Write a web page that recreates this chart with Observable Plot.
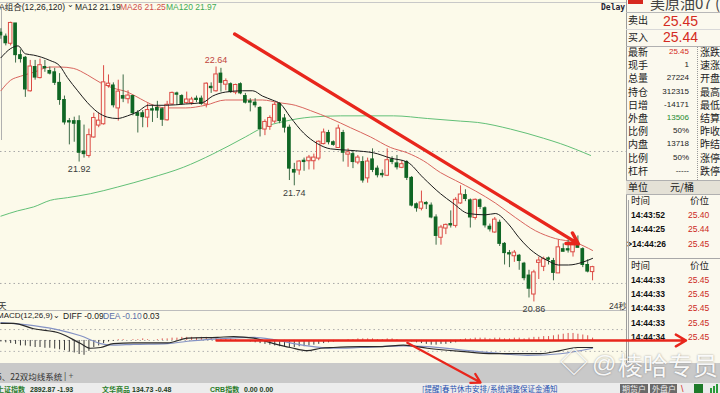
<!DOCTYPE html>
<html><head><meta charset="utf-8">
<script src="https://cdn.jsdelivr.net/npm/d3@7"></script>
<script src="https://cdn.jsdelivr.net/npm/@observablehq/plot@0.6"></script>
<style>
body{margin:0;background:#fcfaea;}
#wrap{position:relative;width:720px;height:393px;overflow:hidden;background:#fcfaea;font-family:"Liberation Sans","Noto Sans CJK SC",sans-serif;color:#222;}
.t{position:absolute;white-space:nowrap;line-height:1;}
.cjk{font-family:"Noto Sans CJK SC",sans-serif;}
.ab{position:absolute;}
</style></head>
<body><div id="wrap"></div>
<script>
// ---------- candle data (index 0..121) ----------
const opens  = [22.90,22.87,22.82,22.97,22.73,22.71,22.46,22.64,22.56,22.64,22.61,22.60,22.52,22.39,22.23,22.23,22.23,22.00,21.97,22.11,22.20,22.21,22.50,22.50,22.33,22.42,22.40,22.42,22.29,22.29,22.26,22.32,22.33,22.32,22.24,22.36,22.44,22.42,22.37,22.37,22.40,22.40,22.36,22.49,22.46,22.59,22.51,22.51,22.45,22.51,22.42,22.38,22.37,22.33,22.17,22.19,22.23,22.36,22.25,22.18,21.86,21.86,21.93,21.93,21.93,21.95,22.06,22.14,22.07,22.03,22.14,21.98,21.98,21.92,21.92,21.80,21.94,21.87,21.83,21.82,21.94,21.91,21.88,21.92,21.80,21.60,21.57,21.61,21.59,21.50,21.35,21.42,21.45,21.44,21.61,21.67,21.63,21.50,21.63,21.57,21.43,21.39,21.46,21.30,21.23,21.21,21.21,21.15,21.06,20.92,21.16,21.13,21.19,21.17,21.08,21.26,21.26,21.24,21.29,21.26,21.14,21.09];
const highs  = [22.93,22.89,22.98,22.97,22.77,22.72,22.69,22.69,22.70,22.69,22.64,22.63,22.59,22.42,22.25,22.26,22.27,22.20,22.17,22.29,22.29,22.65,22.58,22.52,22.54,22.58,22.46,22.42,22.31,22.31,22.36,22.35,22.38,22.33,22.38,22.45,22.45,22.43,22.45,22.41,22.42,22.42,22.52,22.52,22.64,22.63,22.55,22.52,22.51,22.52,22.44,22.40,22.40,22.34,22.24,22.27,22.37,22.37,22.28,22.20,21.91,21.93,21.95,21.97,21.98,22.08,22.17,22.16,22.08,22.20,22.16,22.02,22.00,21.97,21.96,21.95,22.02,21.89,21.86,22.02,21.96,21.97,21.93,21.93,21.81,21.61,21.70,21.62,21.61,21.52,21.44,21.45,21.55,21.65,21.74,21.71,21.64,21.64,21.64,21.58,21.45,21.50,21.48,21.31,21.25,21.25,21.22,21.16,21.10,21.10,21.20,21.20,21.20,21.19,21.33,21.30,21.33,21.31,21.36,21.27,21.18,21.13];
const lows   = [22.85,22.80,22.80,22.67,22.67,22.41,22.45,22.54,22.55,22.60,22.58,22.50,22.35,22.20,22.05,22.07,21.92,21.95,21.95,22.10,22.18,22.20,22.48,22.33,22.23,22.37,22.36,22.27,22.14,22.18,22.18,22.22,22.25,22.19,22.23,22.35,22.35,22.35,22.36,22.35,22.37,22.35,22.33,22.44,22.45,22.45,22.46,22.44,22.43,22.43,22.36,22.30,22.33,22.11,22.12,22.16,22.21,22.21,22.14,21.78,21.74,21.82,21.85,21.86,21.86,21.93,22.05,22.05,22.04,22.03,21.92,21.88,21.87,21.90,21.76,21.76,21.84,21.80,21.80,21.81,21.90,21.86,21.87,21.78,21.58,21.54,21.55,21.56,21.49,21.29,21.29,21.37,21.42,21.42,21.60,21.62,21.42,21.48,21.56,21.42,21.39,21.38,21.28,21.14,21.12,21.16,21.10,21.02,20.89,20.86,21.03,21.09,21.14,21.02,21.08,21.24,21.23,21.20,21.27,21.12,21.08,21.02];
const closes = [22.88,22.82,22.97,22.73,22.70,22.47,22.64,22.56,22.65,22.63,22.59,22.52,22.39,22.22,22.22,22.21,21.99,21.98,22.12,22.25,22.23,22.52,22.51,22.35,22.45,22.40,22.42,22.29,22.27,22.26,22.31,22.31,22.31,22.24,22.35,22.44,22.43,22.36,22.39,22.39,22.39,22.36,22.51,22.48,22.58,22.52,22.53,22.45,22.50,22.44,22.37,22.37,22.35,22.17,22.22,22.25,22.35,22.23,22.18,21.87,21.84,21.92,21.92,21.95,21.95,22.07,22.14,22.07,22.05,22.17,21.99,21.99,21.92,21.95,21.78,21.92,21.86,21.82,21.82,21.93,21.92,21.88,21.90,21.80,21.59,21.57,21.61,21.60,21.50,21.36,21.42,21.44,21.44,21.63,21.67,21.64,21.50,21.63,21.58,21.44,21.41,21.48,21.30,21.23,21.22,21.23,21.17,21.04,20.96,21.08,21.17,21.18,21.18,21.08,21.27,21.24,21.25,21.29,21.27,21.14,21.09,21.12];

// moving averages: [index, value]
const ma12  = [[0,22.71],[2,22.78],[3.5,22.80],[5,22.74],[6.7,22.73],[10,22.69],[12,22.65],[13.6,22.56],[15.7,22.46],[17.7,22.37],[19.7,22.30],[21.8,22.26],[23.8,22.25],[25.9,22.27],[27.9,22.30],[30.2,22.35],[33.7,22.35],[37.8,22.36],[41.2,22.37],[43.3,22.42],[45.9,22.45],[49.4,22.46],[51.5,22.46],[53.5,22.42],[55.5,22.39],[57.2,22.36],[59.2,22.26],[61.9,22.14],[64.7,22.06],[67.4,22.02],[70.9,22.01],[74.2,22.00],[76.2,21.99],[79.7,21.95],[83.1,21.92],[86.4,21.80],[89.9,21.68],[92.4,21.61],[95.6,21.53],[99.1,21.52],[101.1,21.53],[103.8,21.45],[105.9,21.35],[107.9,21.27],[110,21.21],[112,21.17],[114,21.14],[116.1,21.14],[118.9,21.16],[121,21.19]];
const ma26  = [[0,22.46],[2,22.54],[4,22.57],[6.7,22.60],[10.1,22.64],[12.2,22.64],[14.8,22.63],[17.7,22.58],[20.4,22.52],[23,22.48],[25.9,22.45],[28.5,22.40],[30.6,22.36],[33.7,22.33],[37.8,22.33],[41.8,22.35],[45.9,22.39],[50,22.39],[53.5,22.39],[56.8,22.37],[60.2,22.35],[63.3,22.31],[67.4,22.25],[71.5,22.18],[75.6,22.11],[79.7,22.03],[83.1,21.99],[86.4,21.93],[89.9,21.84],[93,21.78],[97.1,21.70],[101.1,21.61],[105.2,21.50],[109.3,21.40],[113.4,21.34],[117.5,21.31],[121,21.25]];
const ma120 = [[0,21.51],[3.4,21.55],[6.7,21.58],[10.1,21.63],[13.6,21.65],[18.3,21.68],[23.8,21.73],[30.6,21.80],[37.3,21.88],[43.3,21.98],[50,22.11],[53.5,22.18],[58.2,22.23],[63.3,22.26],[69.5,22.27],[80.3,22.27],[87.2,22.25],[94,22.23],[97.5,22.22],[104.2,22.17],[111,22.10],[114.4,22.06],[120.6,21.97]];

// labelled extremes
const markIdx = [44, 16, 60, 109];
const markVal = [22.64, 21.92, 21.74, 20.86];

// MACD
const diff = [[0,0.22],[2.6,0.22],[6.7,0.15],[12.2,0.09],[16.3,-0.04],[18.3,-0.10],[20.4,-0.09],[23,-0.04],[27.1,-0.03],[34.1,-0.03],[38.2,0.03],[44.3,0.04],[47.6,0.05],[51.7,0.03],[55.8,-0.04],[59.2,-0.09],[62.7,-0.13],[65.4,-0.10],[68,-0.09],[73.5,-0.08],[77.6,-0.08],[82.3,-0.06],[87.2,-0.10],[94,-0.14],[100.7,-0.17],[107.7,-0.17],[110.3,-0.17],[114.4,-0.13],[117.9,-0.09],[121,-0.09]];
const dea  = [[0,0.23],[6.7,0.19],[12.2,0.13],[16.3,0.06],[20.4,-0.04],[23,-0.06],[27.1,-0.05],[34.1,-0.04],[38.2,-0.01],[44.3,0.02],[51.7,0.04],[55.8,0.01],[59.2,-0.03],[62.7,-0.07],[68,-0.10],[73.5,-0.09],[82.3,-0.07],[87.2,-0.08],[94,-0.12],[100.7,-0.16],[107.7,-0.19],[114.4,-0.17],[121,-0.10]];
const macdHist = [-0.02,-0.03,-0.04,-0.05,-0.07,-0.07,-0.08,-0.09,-0.09,-0.10,-0.10,-0.11,-0.12,-0.13,-0.15,-0.16,-0.18,-0.19,-0.14,-0.09,-0.07,-0.04,-0.02,-0.01,0.01,0.01,0.00,0.01,0.01,0.02,0.01,0.00,0.01,0.02,0.02,0.03,0.03,0.04,0.04,0.04,0.03,0.04,0.04,0.03,0.03,0.02,0.02,0.02,0.01,0.00,-0.01,-0.02,-0.03,-0.04,-0.05,-0.06,-0.07,-0.08,-0.08,-0.09,-0.09,-0.08,-0.08,-0.07,-0.06,-0.05,-0.04,-0.03,-0.02,-0.01,0.00,0.01,0.01,0.02,0.02,0.02,0.02,0.01,0.01,0.02,0.02,0.01,0.00,-0.01,-0.02,-0.03,-0.04,-0.05,-0.06,-0.06,-0.05,-0.05,-0.04,-0.03,0.01,0.02,0.02,0.03,0.03,0.03,0.02,0.03,0.03,0.02,0.02,0.03,0.03,0.02,0.03,0.04,0.04,0.05,0.05,0.06,0.07,0.08,0.09,0.09,0.08,0.07,0.06,0.03];

// annotation arrows (index, value)
const trendArrow = [{i1:47.8, v1:22.89, i2:118.1, v2:21.30}];
const flatArrow  = [{i1:44.1, v1:0.0, i2:140.1, v2:0.0}];
const downArrow  = [{i1:83.1, v1:-0.03, i2:98.1, v2:-0.54}];

// texts
const legendItems = [["MA12 21.19","#222"],["MA26 21.25","#d0504a"],["MA120 21.97","#3faa55"]];
const legendX = [75, 120, 166];
const macdItems = [["DIFF -0.09","#222"],["DEA -0.10","#5b6fa8"],["0.03","#222"]];
const macdX = [63, 103, 143];
const quoteLabels = ["最新","现手","总量","持仓","日增","外盘","比例","内盘","比例","杠杆"];
const quoteValues = ["25.45","1","27224","312315","-14171","13506","50%","13718","50%","-----"];
const quoteColors = ["#d42a22","#222","#222","#222","#222","#1e8a2e","#222","#222","#222","#222"];
const quoteRight  = ["涨跌","速涨","开盘","最高","最低","结算","昨收","昨结","涨停","跌停"];
const tickTimes1 = ["14:43:52","14:44:25",">14:44:26"];
const tickPrices1 = ["25.40","25.44","25.45"];
const tickTimes2 = ["14:44:33","14:44:33","14:44:33","14:44:33","14:44:34"];
const tickPrices2 = ["25.45","25.45","25.45","25.45","25.45"];
const statusItems = [["上证指数","#2b7d2b",-3],["2892.87  -1.93","#1d3d1d",30],["文华商品","#2b7d2b",102],["134.73  -0.48","#1d3d1d",132],["CRB指数","#2b7d2b",210],["0.00  0.00","#1d3d1d",244]];

// ---------- build ----------
const wrap = document.getElementById("wrap");
function txt(s, x, y, size, color, extra){
  const d = document.createElement("div");
  d.className = "t" + (extra && extra.cls ? " " + extra.cls : "");
  d.textContent = s;
  d.style.left = x + "px"; d.style.top = (y - size/2) + "px";
  d.style.fontSize = size + "px"; d.style.color = color;
  if (extra && extra.style) Object.assign(d.style, extra.style);
  wrap.appendChild(d); return d;
}
function box(x, y, w, h, bg, extra){
  const d = document.createElement("div");
  d.className = "ab";
  Object.assign(d.style, {left:x+"px", top:y+"px", width:w+"px", height:h+"px", background:bg}, extra||{});
  wrap.appendChild(d); return d;
}

const candles = opens.map((o, i) => ({i, o, h: highs[i], l: lows[i], c: closes[i], up: closes[i] >= o}));
const UP = "#dc4a44", DOWN = "#0f6624", BG = "#fcfaea";

// bottom bands (under overlays)
box(0, 363, 720, 20, "#c9c9c9");
box(0, 383, 720, 10, "#ececec");
box(0, 310, 626, 1, "#bdbdbd");
box(0, 2, 626, 1, "#c8c8c8");
box(1, 8, 1, 132, "#b0b0b0");

const price = Plot.plot({
  width: 626, height: 312,
  marginTop: 0, marginRight: 0, marginBottom: 0, marginLeft: 0,
  x: {domain: [-0.0818, 127.94], axis: null},
  y: {domain: [20.78, 23.144], axis: null},
  style: {background: "transparent", overflow: "visible"},
  marks: [
    Plot.ruleY([22, 21], {stroke: "#a8a8a8", strokeDasharray: "1.5,3", strokeWidth: 1}),
    Plot.line(ma120, {x: d => d[0], y: d => d[1], stroke: "#62c077", strokeWidth: 1, curve: "monotone-x"}),
    Plot.line(ma26, {x: d => d[0], y: d => d[1], stroke: "#d9655e", strokeWidth: 1, curve: "monotone-x"}),
    Plot.ruleX(candles, {x: "i", y1: "l", y2: "h", stroke: d => d.up ? UP : "#3d6b47", strokeWidth: 1}),
    Plot.rect(candles.filter(d => !d.up), {x1: d => d.i - 0.38, x2: d => d.i + 0.38, y1: "o", y2: "c", fill: DOWN, insetTop: -0.5, insetBottom: -0.5}),
    Plot.rect(candles.filter(d => d.up), {x1: d => d.i - 0.36, x2: d => d.i + 0.36, y1: "o", y2: "c", fill: BG, stroke: UP, strokeWidth: 1, insetTop: -0.5, insetBottom: -0.5}),
    Plot.line(ma12, {x: d => d[0], y: d => d[1], stroke: "#1a1a1a", strokeWidth: 1, curve: "monotone-x"}),
    Plot.text(markIdx.slice(0,1), {x: d => d, y: () => markVal[0], text: () => markVal[0].toFixed(2), dy: -7, fill: "#c0443c", fontSize: 9, fontFamily: "Liberation Sans"}),
    Plot.text(markIdx.slice(1), {x: d => d, y: (d, k) => markVal[k + 1], text: (d, k) => markVal[k + 1].toFixed(2), dy: 7, fill: "#3a3a3a", fontSize: 9, fontFamily: "Liberation Sans"}),
    Plot.arrow(trendArrow, {x1: "i1", y1: "v1", x2: "i2", y2: "v2", stroke: "#e8261c", strokeWidth: 3.4, headLength: 5.5, headAngle: 60})
  ]
});
price.style.position = "absolute"; price.style.left = "0px"; price.style.top = "0px";
wrap.appendChild(price);

// title legend
txt("A组合(12,26,120)", -1, 7, 8.5, "#222");
txt("⌄", 67, 5, 8, "#222");
legendItems.forEach(([s, c], k) => txt(s, legendX[k], 7, 8.5, c));
txt("Delay", 601, 8, 8, "#223", {style: {fontFamily: "DejaVu Sans Mono", fontWeight: "bold"}});
txt("天", -2, 305, 8.5, "#333", {cls: "cjk"});
txt("24秒", 609, 306, 8.5, "#333");

// MACD label
txt("MACD(12,26,9)⌄", -3, 316, 8, "#222");
macdItems.forEach(([s, c], k) => txt(s, macdX[k], 316, 8.5, c));

// lower band text
txt("5、22双均线系统", -3, 376, 8.5, "#333", {cls: "cjk"});
txt("|  +", 64, 376, 8.5, "#555");
statusItems.forEach(([s, c, x]) => txt(s, x, 389, 7, c, {style: {fontWeight: "bold"}}));
txt("[提醒]春节休市安排/系统调整保证金通知", 422, 389, 7.5, "#1f4fb0", {cls: "cjk"});

// ---------- right panel ----------
box(626, 0, 94, 363, "#fbf9ee");
box(626, 0, 1, 363, "#9c9c9c");
box(628, 0, 15, 4, "#d7281f");
txt("美原油07 (", 650, 2, 15, "#444", {cls: "cjk"});
box(626, 12, 94, 1, "#b8b8b8");
txt("卖出", 628, 20, 10, "#222", {cls: "cjk"});
txt("25.45", 663, 21, 14, "#d42a22");
box(626, 29, 94, 1, "#d8d8d8");
txt("买入", 628, 37, 10, "#222", {cls: "cjk"});
txt("25.44", 663, 37, 14, "#d42a22");
box(626, 46, 94, 1, "#b0b0b0");
box(697, 47, 0, 133, "transparent", {borderLeft: "1px dotted #999"});
quoteLabels.forEach((s, k) => {
  const y = 52 + k * 13.2;
  txt(s, 628, y, 10, "#222", {cls: "cjk"});
  txt(quoteValues[k], 652, y, 8, quoteColors[k], {style: {width: "37px", textAlign: "right"}});
  txt(quoteRight[k], 700, y, 10, "#222", {cls: "cjk"});
});
box(626, 180, 94, 14, "#e4e1d6");
box(626, 180, 94, 1, "#b0b0b0");
txt("单位", 628, 187, 10, "#222", {cls: "cjk"});
txt("元/桶", 670, 187, 10, "#222", {cls: "cjk"});
box(626, 194, 94, 1, "#b0b0b0");
txt("时间", 631, 201, 9.5, "#222", {cls: "cjk"});
txt("价位", 690, 201, 9.5, "#222", {cls: "cjk"});
tickTimes1.forEach((s, k) => {
  const y = 215 + k * 14.5;
  txt(s, s[0] === ">" ? 627 : 631, y, 8.5, "#111", {style: {fontWeight: "bold"}});
  txt(tickPrices1[k], 688, y, 8.5, "#cc2a22");
});
box(628, 258, 92, 1, "#a8a8a8");
txt("时间", 631, 266, 9.5, "#222", {cls: "cjk"});
txt("价位", 690, 266, 9.5, "#222", {cls: "cjk"});
tickTimes2.forEach((s, k) => {
  const y = 280 + k * 14.3;
  txt(s, 631, y, 8.5, "#111", {style: {fontWeight: "bold"}});
  txt(tickPrices2[k], 688, y, 8.5, "#cc2a22");
});
box(628, 200, 1, 163, "#a8a8a8");

// bottom-right buttons
box(620, 384, 28, 9, "#6a6a6a");
box(650, 384, 27, 9, "#6a6a6a");
txt("期货户", 622, 389, 8, "#eee", {cls: "cjk"});
txt("外盘户", 652, 389, 8, "#eee", {cls: "cjk"});
txt("\\", 681, 389, 9, "#d42a22");
box(694, 384, 9, 9, "#1e7a2a");
box(710, 388, 2, 5, "#2a9a3a"); box(713, 386, 2, 7, "#2a9a3a"); box(716, 384, 2, 9, "#2a9a3a");

// ---------- MACD pane + lower overlay ----------
const macdRows = macdHist.map((v, i) => ({i, v}));
const macd = Plot.plot({
  width: 720, height: 73,
  marginTop: 0, marginRight: 0, marginBottom: 0, marginLeft: 0,
  x: {domain: [-0.0818, 147.16], axis: null},
  y: {domain: [-0.68, 0.256], axis: null},
  style: {background: "transparent", overflow: "visible"},
  marks: [
    Plot.ruleY([0.14, 0, -0.14], {x1: -0.08, x2: 127.9, stroke: "#b0b0b0", strokeDasharray: "1.5,3"}),
    Plot.ruleX(macdRows, {x: "i", y1: 0, y2: "v", stroke: d => d.v >= 0 ? "#d9534f" : "#3a3a3a", strokeWidth: 1}),
    Plot.line(dea, {x: d => d[0], y: d => d[1], stroke: "#8492c4", strokeWidth: 1.2, curve: "monotone-x"}),
    Plot.line(diff, {x: d => d[0], y: d => d[1], stroke: "#2a2a2a", strokeWidth: 1.2, curve: "monotone-x"}),
    Plot.arrow(flatArrow, {x1: "i1", y1: "v1", x2: "i2", y2: "v2", stroke: "#e8261c", strokeWidth: 2.5, headLength: 7, headAngle: 60}),
    Plot.arrow(downArrow, {x1: "i1", y1: "v1", x2: "i2", y2: "v2", stroke: "#e8261c", strokeWidth: 2.2, headLength: 7, headAngle: 60})
  ]
});
macd.style.position = "absolute"; macd.style.left = "0px"; macd.style.top = "320px";
wrap.appendChild(macd);

// watermark
txt("◇", 560, 364, 28, "rgba(255,255,255,0.9)", {style: {textShadow: "0 0 2px rgba(0,0,0,0.35)"}});
txt("@", 592, 364, 24, "rgba(255,255,255,0.92)", {style: {textShadow: "0 0 2px rgba(0,0,0,0.35)"}});
txt("棱哈专员", 618, 364, 25, "rgba(255,255,255,0.95)", {cls: "cjk", style: {textShadow: "0 0 2px rgba(0,0,0,0.4)"}});
</script>
</body></html>
